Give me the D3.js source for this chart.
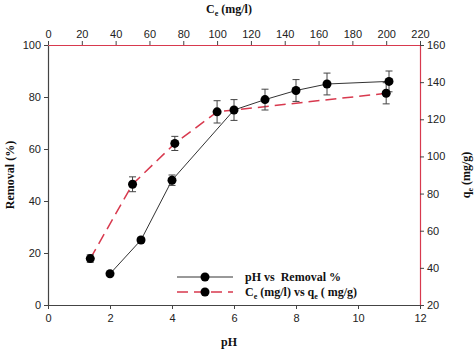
<!DOCTYPE html>
<html lang="en">
<head>
  <meta charset="UTF-8">
  <title>pH vs Removal</title>
  <script src="https://d3js.org/d3.v7.min.js"></script>
  <style>
    body { margin: 0; background: #fff; }
    .tick text { font-family: "Liberation Sans", Arial, sans-serif; font-size: 11px; fill: #222; }
    .ttl { font-family: "Liberation Serif", "Times New Roman", serif; font-weight: bold; font-size: 12px; fill: #111; white-space: pre; }
  </style>
</head>
<body>
  <svg id="chart"></svg>
  <script>
    // pH vs removal (%)
    const phVals = [2, 3, 4, 6, 7, 8, 9, 11];
    const removal = [12, 25, 48, 75, 79, 82.5, 85, 86];
    const removalErr = [0.5, 1, 2, 4, 4, 4.2, 4.2, 4];
    // Ce (mg/l) vs qe (mg/g)
    const ceVals = [25, 50, 75, 100, 200];
    const qeVals = [45, 85, 107, 124, 134];
    const qeErr = [2, 4, 3.8, 6, 5.7];

    const bottomTicks = [0, 2, 4, 6, 8, 10, 12];
    const leftTicks = [0, 20, 40, 60, 80, 100];
    const topTicks = d3.range(0, 221, 20);
    const rightTicks = d3.range(20, 161, 20);

    const W = 474, H = 350;
    const margin = {top: 45, right: 54, bottom: 45, left: 48};
    const width = W - margin.left - margin.right,
          height = H - margin.top - margin.bottom;
    const red = "#d8394e";

    const svg = d3.select("#chart").attr("width", W).attr("height", H);
    const g = svg.append("g").attr("transform", `translate(${margin.left}, ${margin.top})`);

    const x = d3.scaleLinear().domain([0, 12]).range([0, width]);
    const y = d3.scaleLinear().domain([0, 100]).range([height, 0]);
    const x2 = d3.scaleLinear().domain([0, 220]).range([0, width]);
    const y2 = d3.scaleLinear().domain([20, 160]).range([height, 0]);

    function styleAxis(sel, color) {
      sel.select(".domain").attr("stroke", color).attr("stroke-width", 1.2);
      sel.selectAll(".tick line").attr("stroke", "#444");
    }

    g.append("g").attr("transform", `translate(0, ${height})`)
      .call(d3.axisBottom(x).tickValues(bottomTicks).tickSize(4).tickPadding(5).tickSizeOuter(0))
      .call(styleAxis, "#444");
    g.append("g")
      .call(d3.axisLeft(y).tickValues(leftTicks).tickSize(4).tickPadding(3).tickSizeOuter(0))
      .call(styleAxis, "#444");
    g.append("g")
      .call(d3.axisTop(x2).tickValues(topTicks).tickSize(4).tickPadding(3).tickSizeOuter(0))
      .call(styleAxis, red);
    g.append("g").attr("transform", `translate(${width}, 0)`)
      .call(d3.axisRight(y2).tickValues(rightTicks).tickSize(4).tickPadding(3).tickSizeOuter(0))
      .call(styleAxis, red);

    // titles
    svg.append("text").attr("class", "ttl").attr("x", margin.left + width / 2 - 5).attr("y", H - 4)
      .attr("text-anchor", "middle").text("pH");
    const tt = svg.append("text").attr("class", "ttl").attr("x", margin.left + width / 2 - 5).attr("y", 13)
      .attr("text-anchor", "middle");
    tt.append("tspan").text("C");
    tt.append("tspan").attr("font-size", 8).attr("dy", 3).text("e");
    tt.append("tspan").attr("dy", -3).text(" (mg/l)");
    svg.append("text").attr("class", "ttl")
      .attr("transform", `translate(14, ${margin.top + height / 2}) rotate(-90)`)
      .attr("text-anchor", "middle").text("Removal (%)");
    const rt = svg.append("text").attr("class", "ttl")
      .attr("transform", `translate(470, ${margin.top + height / 2}) rotate(-90)`)
      .attr("text-anchor", "middle");
    rt.append("tspan").text("q");
    rt.append("tspan").attr("font-size", 8).attr("dy", 3).text("e");
    rt.append("tspan").attr("dy", -3).text(" (mg/g)");

    // series points in pixel space
    const blk = phVals.map((p, i) => ({x: x(p), y: y(removal[i]), lo: y(removal[i] - removalErr[i]), hi: y(removal[i] + removalErr[i])}));
    const rd = ceVals.map((c, i) => ({x: x2(c), y: y2(qeVals[i]), lo: y2(qeVals[i] - qeErr[i]), hi: y2(qeVals[i] + qeErr[i])}));
    const line = d3.line().x(d => d.x).y(d => d.y);

    g.append("path").attr("fill", "none").attr("stroke", "#333").attr("stroke-width", 1).attr("d", line(blk));
    g.append("path").attr("fill", "none").attr("stroke", red).attr("stroke-width", 1.5)
      .attr("stroke-dasharray", "11,6").attr("d", line(rd));

    function errBars(data) {
      const eb = g.append("g").attr("stroke", "#444").attr("stroke-width", 1);
      data.forEach(d => {
        eb.append("line").attr("x1", d.x).attr("x2", d.x).attr("y1", d.lo).attr("y2", d.hi);
        eb.append("line").attr("x1", d.x - 3.5).attr("x2", d.x + 3.5).attr("y1", d.lo).attr("y2", d.lo);
        eb.append("line").attr("x1", d.x - 3.5).attr("x2", d.x + 3.5).attr("y1", d.hi).attr("y2", d.hi);
      });
    }
    errBars(blk);
    errBars(rd);

    g.selectAll(".mb").data(blk).join("circle").attr("cx", d => d.x).attr("cy", d => d.y).attr("r", 4.5).attr("fill", "#000");
    g.selectAll(".mr").data(rd).join("circle").attr("cx", d => d.x).attr("cy", d => d.y).attr("r", 4.5).attr("fill", "#000");

    // legend
    const lg = svg.append("g");
    lg.append("line").attr("x1", 177).attr("x2", 233).attr("y1", 277).attr("y2", 277).attr("stroke", "#333");
    lg.append("circle").attr("cx", 205).attr("cy", 277).attr("r", 4.5).attr("fill", "#000");
    lg.append("line").attr("x1", 177).attr("x2", 233).attr("y1", 292).attr("y2", 292).attr("stroke", red)
      .attr("stroke-width", 1.5).attr("stroke-dasharray", "11,6");
    lg.append("circle").attr("cx", 205).attr("cy", 292).attr("r", 4.5).attr("fill", "#000");
    lg.append("text").attr("class", "ttl").attr("x", 245).attr("y", 281).text("pH vs  Removal %");
    const l2 = lg.append("text").attr("class", "ttl").attr("x", 245).attr("y", 296);
    l2.append("tspan").text("C");
    l2.append("tspan").attr("font-size", 8).attr("dy", 3).text("e");
    l2.append("tspan").attr("dy", -3).text(" (mg/l) vs q");
    l2.append("tspan").attr("font-size", 8).attr("dy", 3).text("e");
    l2.append("tspan").attr("dy", -3).text(" ( mg/g)");
  </script>
</body>
</html>
